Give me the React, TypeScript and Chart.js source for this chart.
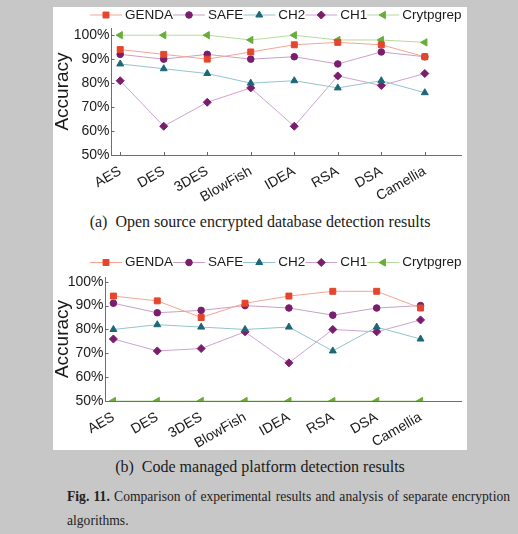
import React, { useEffect, useRef } from 'react';
import { Chart, registerables } from 'chart.js';
import { drawPoint } from 'chart.js/helpers';

Chart.register(...registerables);

// ---------- data ----------
const categories = ['AES', 'DES', '3DES', 'BlowFish', 'IDEA', 'RSA', 'DSA', 'Camellia'];
const yTickValues = [50, 60, 70, 80, 90, 100];
const seriesNames = ['GENDA', 'SAFE', 'CH2', 'CH1', 'Crytpgrep'];

const openGENDA = [94, 92, 90, 93, 96, 97, 96, 91];
const openSAFE = [92, 90, 92, 90, 91, 88, 93, 91];
const openCH2 = [88, 86, 84, 80, 81, 78, 81, 76];
const openCH1 = [81, 62, 72, 78, 62, 83, 79, 84];
const openCrytpgrep = [100, 100, 100, 98, 100, 98, 98, 97];

const codeGENDA = [94, 92, 85, 91, 94, 96, 96, 89];
const codeSAFE = [91, 87, 88, 90, 89, 86, 89, 90];
const codeCH2 = [80, 82, 81, 80, 81, 71, 81, 76];
const codeCH1 = [76, 71, 72, 79, 66, 80, 79, 84];
const codeCrytpgrep = [50, 50, 50, 50, 50, 50, 50, 50];

// ---------- styles ----------
const STYLES = [
  { line: '#f5a590', point: '#e4452d', style: 'rect', radius: 4.2, rotation: 0 },
  { line: '#c9a0c6', point: '#7a1d6c', style: 'circle', radius: 3.3, rotation: 0 },
  { line: '#93c4cc', point: '#1c6878', style: 'triangle', radius: 4, rotation: 0 },
  { line: '#cfa3cf', point: '#7a1d6c', style: 'rectRot', radius: 4, rotation: 0 },
  { line: '#b7da9d', point: '#68ad38', style: 'triangle', radius: 4.2, rotation: -90 },
];

const SANS = '"Liberation Sans", Arial, sans-serif';
const SERIF = '"Liberation Serif", "Times New Roman", serif';
const W = 414;

const lineLegendPlugin = {
  id: 'lineLegend',
  afterDraw(chart: any, _a: any, opts: any) {
    const ctx = chart.ctx;
    ctx.save();
    ctx.font = `13.5px ${SANS}`;
    ctx.textBaseline = 'middle';
    ctx.textAlign = 'left';
    let x = opts.x;
    const y = opts.y;
    chart.data.datasets.forEach((ds: any, i: number) => {
      const st = STYLES[i];
      ctx.strokeStyle = st.line;
      ctx.lineWidth = 1;
      ctx.beginPath();
      ctx.moveTo(x, y);
      ctx.lineTo(x + opts.lineLen, y);
      ctx.stroke();
      ctx.fillStyle = st.point;
      ctx.strokeStyle = st.point;
      drawPoint(ctx, { pointStyle: st.style, radius: st.radius, rotation: st.rotation, borderWidth: 1 } as any, x + opts.lineLen / 2, y);
      x += opts.lineLen + opts.gap;
      ctx.fillStyle = '#1a1a1a';
      ctx.fillText(ds.label, x, y);
      x += ctx.measureText(ds.label).width + opts.after;
    });
    ctx.restore();
  },
};

const innerTicksPlugin = {
  id: 'innerTicks',
  beforeDatasetsDraw(chart: any) {
    const ctx = chart.ctx;
    const xs = chart.scales.x;
    const ys = chart.scales.y;
    const a = chart.chartArea;
    ctx.save();
    ctx.strokeStyle = '#666';
    ctx.lineWidth = 1;
    ctx.beginPath();
    ys.ticks.forEach((t: any) => {
      const py = Math.round(ys.getPixelForValue(t.value)) + 0.5;
      ctx.moveTo(a.left, py);
      ctx.lineTo(a.left + 3, py);
    });
    xs.ticks.forEach((t: any) => {
      const px = Math.round(xs.getPixelForValue(t.value)) + 0.5;
      ctx.moveTo(px, a.bottom);
      ctx.lineTo(px, a.bottom - 3);
    });
    ctx.stroke();
    ctx.restore();
  },
};

type Frame = {
  height: number;
  areaLeft: number;
  areaTop: number;
  areaRight: number;
  areaBottom: number;
  xMin: number;
  xMax: number;
  yMax: number;
  legendX: number;
  legendY: number;
};

function LineChart({ series, frame }: { series: number[][]; frame: Frame }) {
  const ref = useRef<HTMLCanvasElement>(null);
  useEffect(() => {
    if (!ref.current) return;
    const datasets = series.map((vals, i) => ({
      label: seriesNames[i],
      data: vals.map((v, j) => ({ x: j + 1, y: v })),
      borderColor: STYLES[i].line,
      backgroundColor: STYLES[i].point,
      borderWidth: 1,
      pointStyle: STYLES[i].style as any,
      pointRadius: STYLES[i].radius,
      pointRotation: STYLES[i].rotation,
      pointBackgroundColor: STYLES[i].point,
      pointBorderColor: STYLES[i].point,
      pointBorderWidth: 1,
      tension: 0,
    }));
    const chart = new Chart(ref.current, {
      type: 'line',
      data: { datasets },
      plugins: [lineLegendPlugin, innerTicksPlugin],
      options: {
        responsive: false,
        animation: false,
        events: [],
        layout: { padding: { left: 0, top: frame.areaTop, right: W - frame.areaRight, bottom: 0 } },
        plugins: {
          legend: { display: false },
          tooltip: { enabled: false },
          lineLegend: { x: frame.legendX, y: frame.legendY, lineLen: 32, gap: 3, after: 0 },
        } as any,
        scales: {
          x: {
            type: 'linear',
            min: frame.xMin,
            max: frame.xMax,
            afterBuildTicks: (s: any) => {
              s.ticks = categories.map((_, i) => ({ value: i + 1 }));
            },
            afterFit: (s: any) => {
              s.height = frame.height - frame.areaBottom;
            },
            grid: { display: false, drawTicks: false },
            border: { display: true, color: '#6e6e6e', width: 1 },
            ticks: {
              autoSkip: false,
              maxRotation: 30,
              minRotation: 30,
              padding: 8,
              color: '#1a1a1a',
              font: { family: SANS, size: 14 },
              callback: (v: any) => categories[Number(v) - 1] ?? '',
            },
          },
          y: {
            type: 'linear',
            min: 50,
            max: frame.yMax,
            afterBuildTicks: (s: any) => {
              s.ticks = yTickValues.map((v) => ({ value: v }));
            },
            afterFit: (s: any) => {
              s.width = frame.areaLeft;
            },
            grid: { display: false, drawTicks: false },
            border: { display: true, color: '#6e6e6e', width: 1 },
            ticks: {
              padding: 2,
              color: '#1a1a1a',
              font: { family: SANS, size: 14 },
              callback: (v: any) => `${v}%`,
            },
            title: {
              display: true,
              text: 'Accuracy',
              color: '#1a1a1a',
              padding: 0,
              font: { family: SANS, size: 19, lineHeight: 1 },
            },
          },
        },
      },
    });
    return () => chart.destroy();
  }, [series, frame]);
  return <canvas ref={ref} width={W} height={frame.height} style={{ width: W, height: frame.height, display: 'block' }} />;
}

const frameA: Frame = {
  height: 205, areaLeft: 58.5, areaTop: 21, areaRight: 412, areaBottom: 148,
  xMin: 0.8, xMax: 8.85, yMax: 103, legendX: 37, legendY: 8,
};
const frameB: Frame = {
  height: 195, areaLeft: 52.5, areaTop: 22, areaRight: 411, areaBottom: 146,
  xMin: 0.82, xMax: 8.94, yMax: 102, legendX: 37, legendY: 7.5,
};

const seriesA = [openGENDA, openSAFE, openCH2, openCH1, openCrytpgrep];
const seriesB = [codeGENDA, codeSAFE, codeCH2, codeCH1, codeCrytpgrep];

export default function App() {
  return (
    <div style={{ position: 'fixed', left: 0, top: 0, width: 518, height: 534, background: '#c7c7c7', overflow: 'hidden' }}>
      <div style={{ position: 'absolute', left: 53, top: 7, width: 414, height: 443, background: '#ffffff' }} />
      <div style={{ position: 'absolute', left: 53, top: 7 }}>
        <LineChart series={seriesA} frame={frameA} />
      </div>
      <div style={{ position: 'absolute', left: 53, top: 212, width: 414, textAlign: 'center', font: `16px ${SERIF}`, lineHeight: '20px', color: '#1a1a1a', whiteSpace: 'pre' }}>
        {'(a)  Open source encrypted database detection results'}
      </div>
      <div style={{ position: 'absolute', left: 53, top: 255 }}>
        <LineChart series={seriesB} frame={frameB} />
      </div>
      <div style={{ position: 'absolute', left: 53, top: 457, width: 414, textAlign: 'center', font: `16px ${SERIF}`, lineHeight: '20px', color: '#1a1a1a', whiteSpace: 'pre' }}>
        {'(b)  Code managed platform detection results'}
      </div>
      <div style={{ position: 'absolute', left: 67, top: 485, width: 443, textAlign: 'justify', font: `13.6px ${SERIF}`, lineHeight: '24px', color: '#222' }}>
        <b>Fig. 11.</b> Comparison of experimental results and analysis of separate encryption algorithms.
      </div>
    </div>
  );
}
